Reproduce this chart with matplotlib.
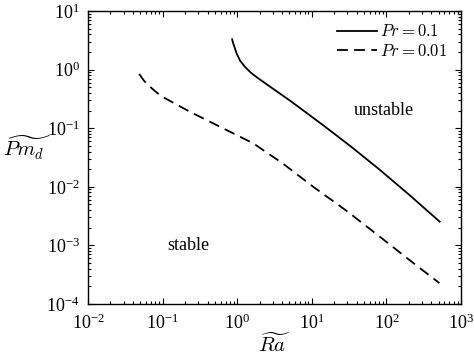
import matplotlib
matplotlib.use("Agg")
import matplotlib.pyplot as plt
from matplotlib.ticker import LogLocator, NullFormatter

plt.rcParams['font.family'] = ['Liberation Serif', 'DejaVu Serif']
plt.rcParams['mathtext.fontset'] = 'cm'

# Pr = 0.1 (solid)
ra_01 = [0.855, 0.88, 0.912, 0.979, 1.096, 1.268, 1.514, 1.910, 3.19, 5.35, 14.9, 34.0, 81.5, 199.5, 518]
pm_01 = [3.29, 2.85, 2.51, 1.90, 1.41, 1.12, 0.891, 0.711, 0.449, 0.283, 0.1072, 0.0479, 0.0195, 0.00741, 0.00254]

# Pr = 0.01 (dashed)
ra_001 = [0.0486, 0.0562, 0.0676, 0.0832, 0.102, 0.232, 0.586, 1.64, 4.07, 10.4, 29.2, 81.5, 199.5, 512]
pm_001 = [0.841, 0.646, 0.511, 0.407, 0.337, 0.191, 0.106, 0.0552, 0.0251, 0.01005, 0.00389, 0.00141, 0.000575, 0.000228]

labels = [r'$Pr = 0.1$', r'$Pr = 0.01$']

fig = plt.figure(figsize=(4.74, 3.62), dpi=100)
ax = fig.add_axes([0.1857, 0.1602, 0.7869, 0.8094])

ax.plot(ra_01, pm_01, color='black', lw=1.3, label=labels[0])
ax.plot(ra_001, pm_001, color='black', lw=1.3, linestyle=(0, (6, 3.5)), label=labels[1])

ax.set_xscale('log')
ax.set_yscale('log')
ax.set_xlim(1e-2, 1e3)
ax.set_ylim(1e-4, 1e1)
ax.xaxis.set_major_locator(LogLocator(base=10, numticks=10))
ax.yaxis.set_major_locator(LogLocator(base=10, numticks=10))
ax.xaxis.set_minor_locator(LogLocator(base=10, subs=range(2, 10), numticks=20))
ax.yaxis.set_minor_locator(LogLocator(base=10, subs=range(2, 10), numticks=20))
ax.xaxis.set_minor_formatter(NullFormatter())
ax.yaxis.set_minor_formatter(NullFormatter())

ax.tick_params(which='both', direction='in', top=True, right=True, labelsize=13, width=0.8)
ax.tick_params(which='major', length=4)
ax.tick_params(which='minor', length=2)
ax.tick_params(axis='x', which='major', pad=7)
ax.tick_params(axis='y', which='major', pad=6)
for s in ax.spines.values():
    s.set_linewidth(1.0)

ax.set_xlabel(r'$\widetilde{Ra}$', fontsize=15, labelpad=0)
ax.set_ylabel(r'$\widetilde{Pm_d}$', fontsize=15, rotation=0, va='center', ha='center')
ax.yaxis.set_label_coords(-0.165, 0.532)

ax.text(0.794, 0.662, 'unstable', transform=ax.transAxes, fontsize=13, ha='center', va='center')
ax.text(0.268, 0.201, 'stable', transform=ax.transAxes, fontsize=13, ha='center', va='center')

leg = ax.legend(loc='upper right', frameon=False, fontsize=12, handlelength=2.4,
                handletextpad=0.2, labelspacing=0.2, borderaxespad=0.4)

fig.savefig('out.png', dpi=100)
